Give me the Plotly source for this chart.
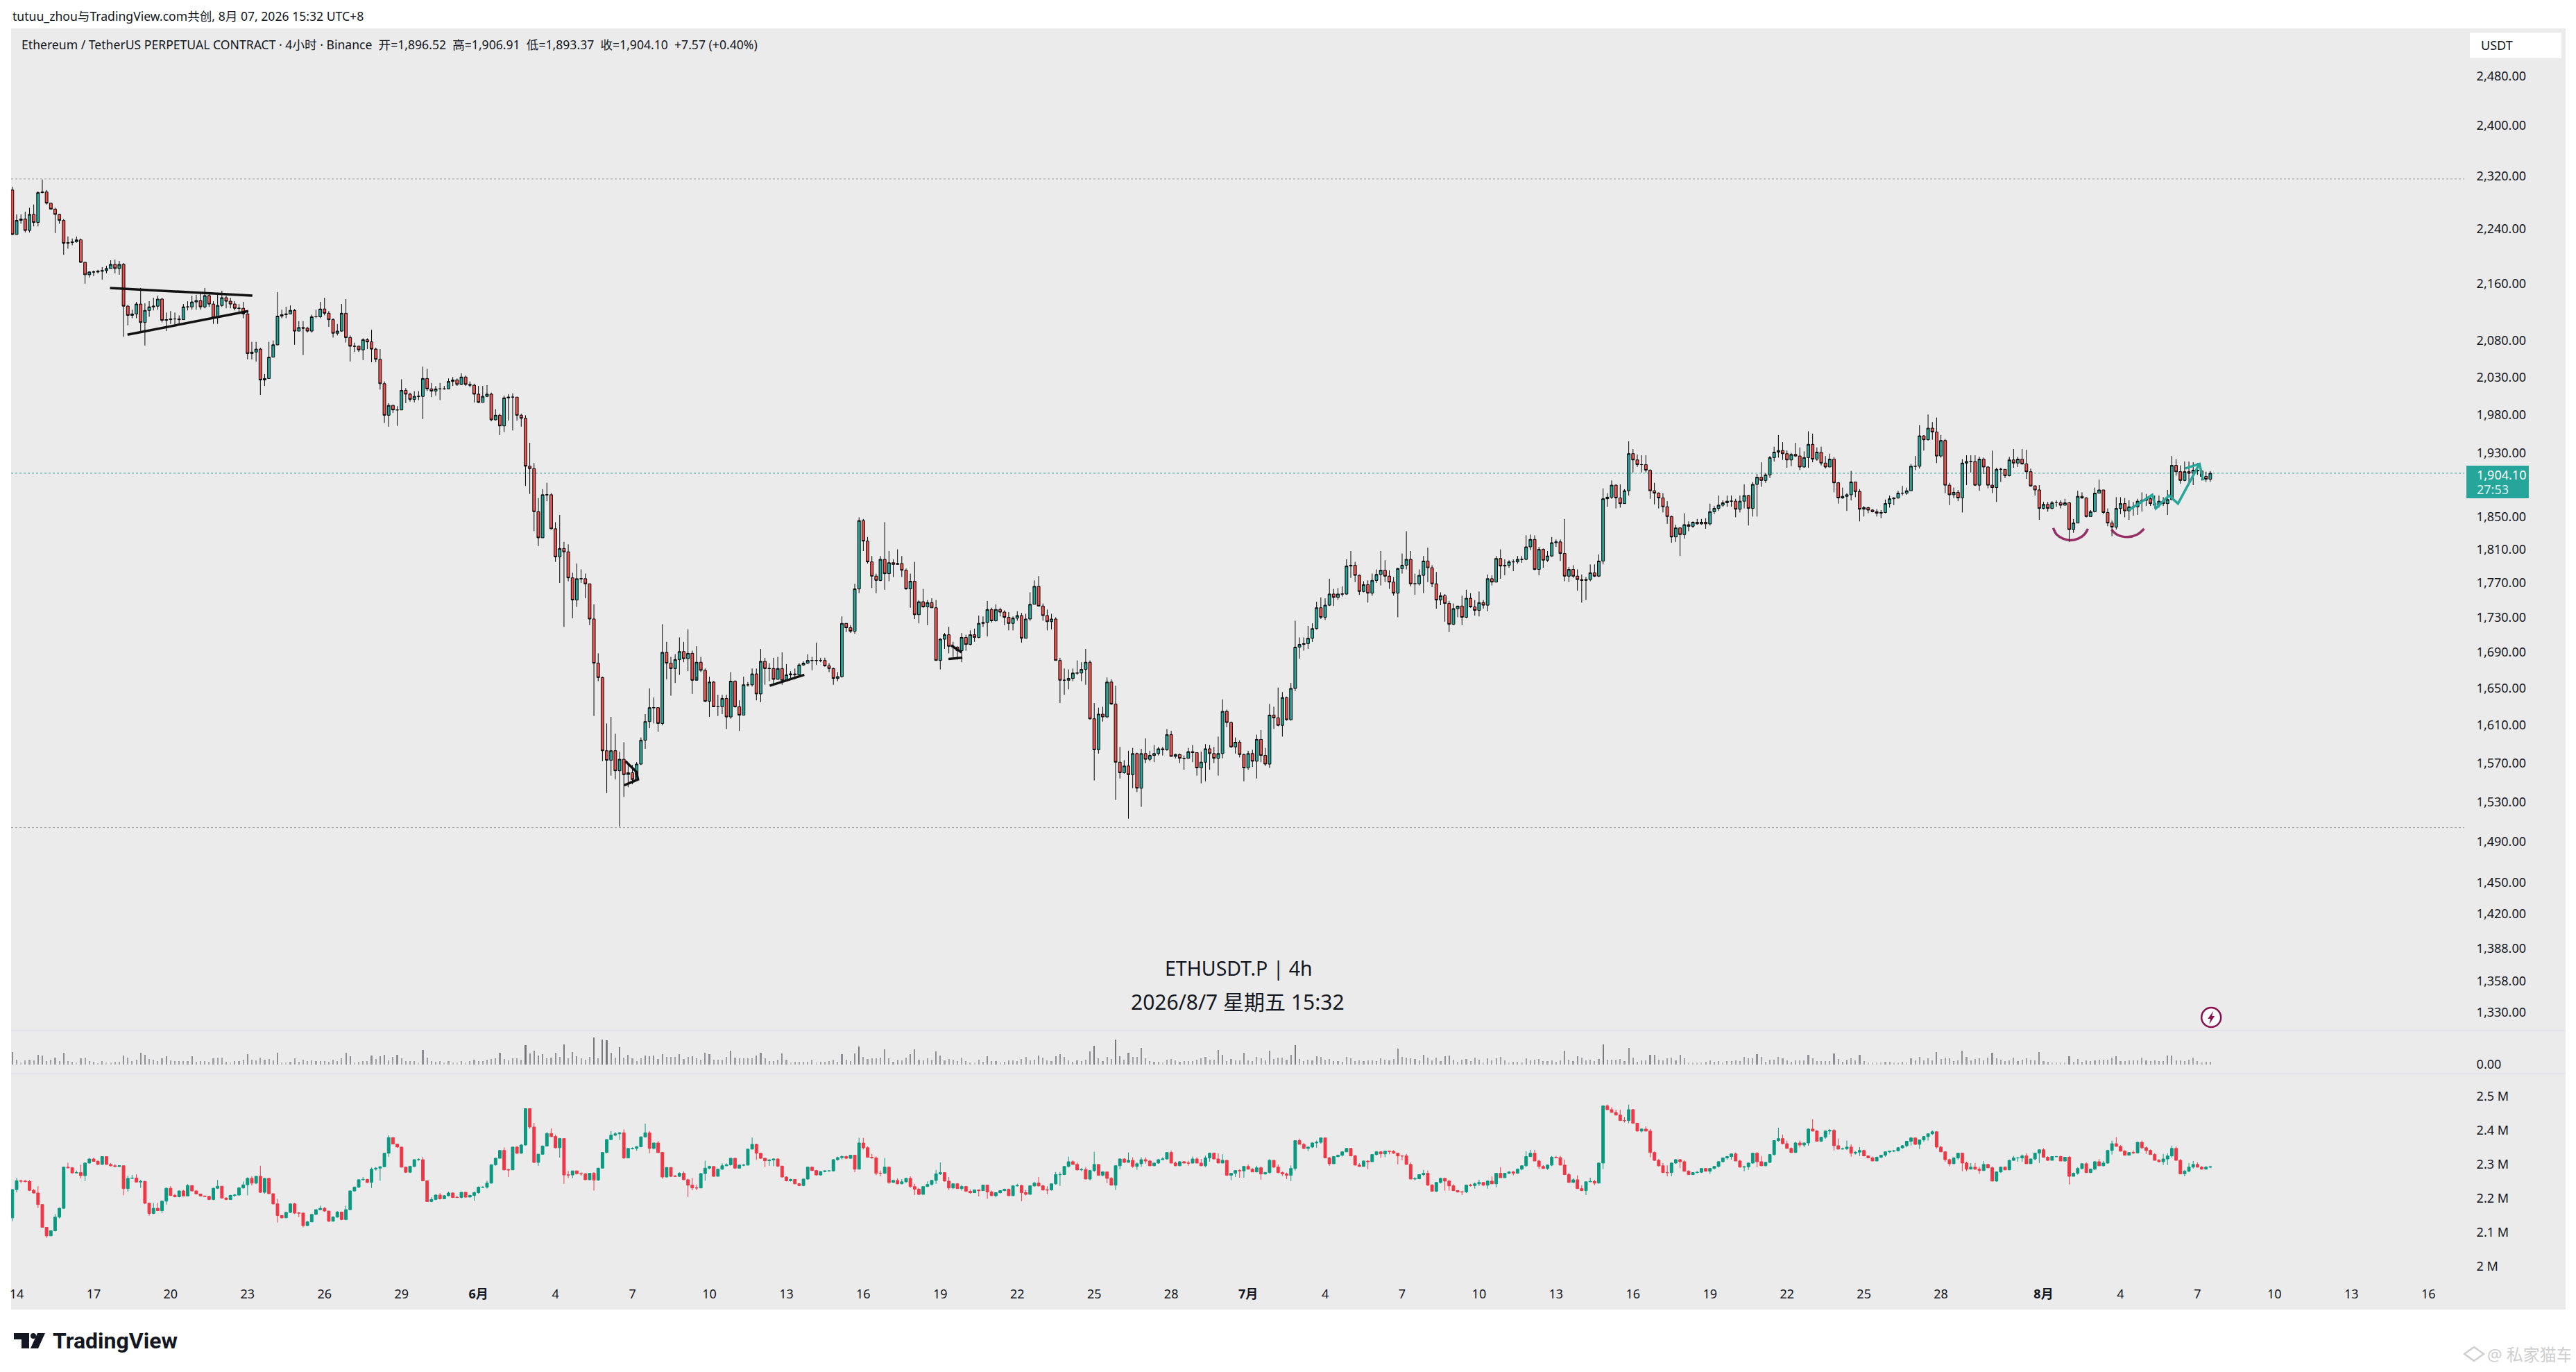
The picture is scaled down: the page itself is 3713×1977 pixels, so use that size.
import math

import pandas as pd
import plotly.graph_objects as go

# the browser page keeps its 8px body margin, so the figure is drawn 8px smaller
PAGE_WIDTH = 3713
PAGE_HEIGHT = 1977
BODY_MARGIN = 8
WIDTH = PAGE_WIDTH - BODY_MARGIN
HEIGHT = PAGE_HEIGHT - BODY_MARGIN

# ---- price pane, USDT (open of a bar is the close of the bar before it)
first_open = 2299
price_close = [
    2232, 2253, 2255, 2238, 2262, 2250, 2295, 2296, 2279, 2270,
    2262, 2253, 2219, 2220, 2221, 2224, 2191, 2173, 2177, 2177,
    2178, 2179, 2182, 2188, 2182, 2188, 2128, 2115, 2117, 2131,
    2105, 2122, 2127, 2128, 2138, 2108, 2109, 2110, 2110, 2109,
    2127, 2127, 2134, 2136, 2127, 2143, 2131, 2112, 2129, 2140,
    2135, 2131, 2125, 2125, 2117, 2062, 2064, 2068, 2026, 2028,
    2057, 2074, 2114, 2116, 2117, 2122, 2093, 2098, 2097, 2093,
    2113, 2113, 2124, 2118, 2109, 2090, 2093, 2118, 2084, 2072,
    2072, 2067, 2081, 2078, 2068, 2054, 2021, 1979, 1992, 1986,
    1986, 2012, 2007, 2000, 2004, 2004, 2028, 2014, 2011, 2014,
    2014, 2014, 2024, 2026, 2020, 2030, 2020, 2019, 2007, 1996,
    2004, 2007, 1973, 1979, 1965, 2002, 2003, 2003, 1979, 1975,
    1913, 1910, 1856, 1824, 1877, 1877, 1835, 1801, 1811, 1807,
    1776, 1750, 1775, 1775, 1769, 1728, 1678, 1662, 1583, 1573,
    1583, 1562, 1574, 1558, 1560, 1553, 1569, 1594, 1614, 1629,
    1629, 1612, 1690, 1678, 1672, 1682, 1691, 1683, 1689, 1659,
    1679, 1670, 1636, 1657, 1630, 1630, 1639, 1619, 1658, 1630,
    1621, 1654, 1654, 1666, 1644, 1680, 1672, 1672, 1660, 1672,
    1659, 1665, 1666, 1665, 1676, 1678, 1681, 1681, 1681, 1681,
    1675, 1672, 1661, 1663, 1723, 1718, 1714, 1763, 1845, 1820,
    1795, 1778, 1773, 1798, 1781, 1794, 1792, 1793, 1785, 1763,
    1772, 1733, 1748, 1742, 1747, 1741, 1681, 1705, 1710, 1697,
    1696, 1692, 1707, 1699, 1710, 1707, 1723, 1724, 1739, 1726,
    1739, 1736, 1730, 1723, 1729, 1732, 1706, 1728, 1745, 1766,
    1743, 1732, 1725, 1728, 1681, 1659, 1659, 1661, 1667, 1667,
    1671, 1679, 1617, 1584, 1622, 1619, 1657, 1633, 1571, 1560,
    1567, 1558, 1580, 1544, 1580, 1574, 1578, 1580, 1585, 1584,
    1600, 1577, 1579, 1575, 1575, 1582, 1581, 1565, 1571, 1585,
    1580, 1575, 1580, 1625, 1613, 1587, 1592, 1579, 1565, 1580,
    1572, 1595, 1578, 1569, 1621, 1618, 1610, 1640, 1616, 1650,
    1696, 1699, 1700, 1706, 1717, 1741, 1730, 1744, 1757, 1753,
    1757, 1757, 1790, 1791, 1779, 1760, 1768, 1758, 1773, 1780,
    1785, 1778, 1771, 1758, 1787, 1791, 1798, 1769, 1769, 1779,
    1796, 1788, 1769, 1750, 1755, 1746, 1722, 1740, 1743, 1730,
    1752, 1742, 1738, 1747, 1744, 1775, 1771, 1799, 1790, 1791,
    1795, 1795, 1798, 1798, 1813, 1822, 1786, 1810, 1797, 1802,
    1818, 1819, 1805, 1778, 1786, 1778, 1774, 1773, 1774, 1782,
    1778, 1796, 1872, 1874, 1889, 1873, 1866, 1882, 1929, 1921,
    1915, 1915, 1908, 1882, 1879, 1873, 1862, 1850, 1825, 1836,
    1828, 1840, 1838, 1843, 1841, 1843, 1841, 1856, 1860, 1864,
    1867, 1869, 1869, 1859, 1869, 1876, 1860, 1890, 1899, 1895,
    1902, 1924, 1931, 1933, 1929, 1921, 1928, 1926, 1912, 1924,
    1941, 1922, 1931, 1917, 1912, 1922, 1892, 1873, 1875, 1877,
    1893, 1881, 1859, 1861, 1858, 1856, 1854, 1855, 1866, 1872,
    1873, 1879, 1879, 1882, 1913, 1913, 1952, 1947, 1962, 1957,
    1926, 1946, 1889, 1877, 1880, 1873, 1917, 1919, 1919, 1889,
    1922, 1912, 1889, 1886, 1909, 1909, 1901, 1921, 1917, 1922,
    1916, 1906, 1888, 1883, 1860, 1865, 1860, 1867, 1867, 1864,
    1867, 1834, 1842, 1875, 1873, 1850, 1856, 1879, 1883, 1855,
    1842, 1837, 1860, 1866, 1857, 1862, 1862, 1869, 1870, 1872,
    1866, 1864, 1869, 1866, 1871, 1914, 1906, 1895, 1906, 1904,
    1908, 1907, 1900, 1896.52, 1904.10,
]
price_high = [
    2304, 2262, 2262, 2266, 2272, 2277, 2297, 2315, 2299, 2279,
    2272, 2263, 2255, 2229, 2226, 2229, 2226, 2192, 2178, 2179,
    2180, 2184, 2186, 2194, 2195, 2193, 2190, 2130, 2123, 2134,
    2154, 2132, 2135, 2140, 2143, 2140, 2119, 2121, 2119, 2115,
    2131, 2135, 2143, 2144, 2146, 2154, 2146, 2135, 2144, 2150,
    2143, 2140, 2135, 2131, 2134, 2121, 2078, 2078, 2070, 2034,
    2078, 2080, 2148, 2123, 2127, 2129, 2124, 2107, 2107, 2099,
    2116, 2123, 2134, 2140, 2121, 2111, 2103, 2131, 2138, 2087,
    2077, 2073, 2083, 2083, 2095, 2070, 2068, 2024, 1995, 1993,
    1991, 2027, 2015, 2009, 2011, 2011, 2044, 2041, 2022, 2018,
    2022, 2018, 2028, 2030, 2028, 2035, 2032, 2024, 2021, 2018,
    2018, 2019, 2009, 1987, 1981, 2005, 2007, 2008, 2003, 1981,
    1979, 1943, 1917, 1873, 1884, 1892, 1879, 1843, 1852, 1819,
    1816, 1782, 1793, 1786, 1781, 1769, 1745, 1689, 1663, 1612,
    1619, 1601, 1582, 1592, 1569, 1568, 1571, 1597, 1622, 1650,
    1640, 1629, 1722, 1702, 1685, 1688, 1707, 1702, 1716, 1692,
    1697, 1685, 1672, 1663, 1658, 1643, 1643, 1643, 1668, 1659,
    1637, 1663, 1657, 1672, 1672, 1694, 1684, 1678, 1684, 1685,
    1690, 1677, 1669, 1672, 1678, 1680, 1688, 1685, 1701, 1684,
    1684, 1678, 1673, 1668, 1731, 1723, 1721, 1769, 1849, 1847,
    1825, 1802, 1781, 1802, 1843, 1808, 1798, 1810, 1802, 1787,
    1781, 1795, 1750, 1763, 1750, 1752, 1750, 1706, 1712, 1719,
    1702, 1697, 1712, 1710, 1715, 1717, 1732, 1731, 1749, 1741,
    1745, 1741, 1738, 1736, 1731, 1737, 1735, 1734, 1759, 1773,
    1778, 1746, 1739, 1734, 1730, 1684, 1672, 1671, 1672, 1681,
    1679, 1694, 1681, 1634, 1629, 1630, 1662, 1660, 1653, 1587,
    1573, 1583, 1586, 1581, 1585, 1596, 1583, 1589, 1587, 1587,
    1606, 1604, 1580, 1580, 1578, 1586, 1589, 1581, 1582, 1590,
    1589, 1587, 1598, 1638, 1627, 1614, 1597, 1594, 1580, 1583,
    1584, 1600, 1605, 1586, 1633, 1630, 1651, 1646, 1641, 1656,
    1726, 1707, 1707, 1720, 1723, 1748, 1753, 1752, 1775, 1763,
    1764, 1766, 1798, 1808, 1795, 1780, 1772, 1773, 1781, 1786,
    1808, 1797, 1785, 1777, 1788, 1805, 1832, 1808, 1781, 1786,
    1802, 1812, 1791, 1783, 1759, 1757, 1749, 1746, 1743, 1755,
    1762, 1758, 1750, 1760, 1750, 1780, 1779, 1802, 1810, 1798,
    1797, 1798, 1802, 1802, 1827, 1828, 1827, 1813, 1811, 1808,
    1825, 1822, 1822, 1847, 1789, 1791, 1786, 1780, 1777, 1792,
    1792, 1804, 1885, 1879, 1895, 1890, 1890, 1884, 1945, 1935,
    1928, 1927, 1927, 1909, 1892, 1880, 1879, 1869, 1851, 1840,
    1837, 1854, 1844, 1844, 1847, 1847, 1848, 1866, 1863, 1876,
    1870, 1876, 1876, 1872, 1876, 1890, 1877, 1893, 1903, 1918,
    1904, 1926, 1938, 1953, 1944, 1933, 1930, 1943, 1937, 1932,
    1958, 1955, 1937, 1938, 1926, 1929, 1925, 1893, 1886, 1879,
    1907, 1893, 1884, 1863, 1862, 1859, 1859, 1858, 1871, 1876,
    1874, 1882, 1888, 1886, 1916, 1926, 1966, 1953, 1980, 1970,
    1976, 1953, 1948, 1892, 1886, 1883, 1922, 1927, 1927, 1927,
    1925, 1924, 1913, 1933, 1911, 1911, 1909, 1925, 1935, 1925,
    1935, 1934, 1910, 1889, 1889, 1868, 1868, 1869, 1870, 1870,
    1872, 1868, 1847, 1882, 1880, 1874, 1858, 1886, 1896, 1883,
    1860, 1845, 1874, 1874, 1873, 1870, 1868, 1872, 1880, 1878,
    1876, 1876, 1876, 1874, 1883, 1926, 1922, 1914, 1919, 1919,
    1918, 1917, 1908, 1906, 1906.91,
]
price_low = [
    2231, 2232, 2248, 2235, 2235, 2244, 2244, 2294, 2277, 2270,
    2234, 2248, 2202, 2211, 2216, 2220, 2190, 2160, 2169, 2171,
    2175, 2166, 2175, 2182, 2175, 2173, 2085, 2101, 2111, 2111,
    2092, 2073, 2113, 2122, 2123, 2105, 2093, 2103, 2101, 2103,
    2109, 2122, 2123, 2123, 2123, 2125, 2127, 2103, 2103, 2127,
    2125, 2125, 2122, 2119, 2111, 2054, 2054, 2051, 2006, 2018,
    2028, 2057, 2073, 2111, 2111, 2117, 2074, 2093, 2060, 2091,
    2091, 2111, 2111, 2115, 2099, 2084, 2087, 2092, 2077, 2051,
    2064, 2064, 2053, 2068, 2050, 2050, 2013, 1969, 1964, 1982,
    1965, 1986, 1995, 1997, 1996, 1999, 1974, 2011, 2003, 2005,
    1999, 2013, 2014, 2018, 2018, 2019, 2018, 2016, 1996, 1995,
    1996, 2003, 1971, 1972, 1953, 1957, 1972, 1959, 1972, 1964,
    1888, 1878, 1832, 1814, 1824, 1869, 1834, 1795, 1770, 1719,
    1772, 1729, 1742, 1770, 1752, 1721, 1620, 1658, 1572, 1539,
    1557, 1553, 1505, 1535, 1545, 1548, 1551, 1568, 1585, 1607,
    1612, 1603, 1610, 1660, 1642, 1656, 1665, 1679, 1669, 1644,
    1663, 1668, 1635, 1619, 1630, 1620, 1622, 1606, 1617, 1629,
    1604, 1621, 1652, 1652, 1637, 1635, 1654, 1658, 1654, 1660,
    1654, 1658, 1660, 1660, 1663, 1675, 1677, 1670, 1676, 1679,
    1674, 1668, 1654, 1658, 1662, 1713, 1712, 1711, 1758, 1808,
    1793, 1764, 1758, 1772, 1762, 1772, 1777, 1792, 1777, 1762,
    1741, 1728, 1723, 1741, 1721, 1741, 1681, 1671, 1694, 1689,
    1685, 1682, 1679, 1692, 1698, 1702, 1706, 1719, 1708, 1724,
    1725, 1731, 1721, 1715, 1715, 1726, 1701, 1706, 1726, 1745,
    1743, 1726, 1715, 1716, 1681, 1634, 1643, 1649, 1658, 1665,
    1658, 1654, 1616, 1552, 1580, 1614, 1618, 1632, 1532, 1554,
    1559, 1513, 1544, 1540, 1525, 1570, 1572, 1571, 1578, 1578,
    1583, 1577, 1575, 1570, 1563, 1575, 1571, 1557, 1549, 1551,
    1563, 1570, 1557, 1575, 1608, 1586, 1580, 1576, 1551, 1563,
    1566, 1554, 1571, 1567, 1565, 1606, 1609, 1598, 1615, 1615,
    1647, 1683, 1692, 1694, 1702, 1716, 1728, 1727, 1743, 1743,
    1750, 1754, 1756, 1776, 1771, 1756, 1759, 1747, 1755, 1770,
    1767, 1771, 1763, 1755, 1730, 1781, 1786, 1766, 1756, 1767,
    1758, 1771, 1765, 1740, 1744, 1725, 1713, 1721, 1730, 1721,
    1729, 1741, 1732, 1731, 1740, 1737, 1767, 1771, 1775, 1779,
    1788, 1784, 1793, 1794, 1797, 1809, 1785, 1779, 1788, 1795,
    1801, 1813, 1796, 1772, 1771, 1776, 1761, 1747, 1750, 1772,
    1777, 1777, 1792, 1862, 1872, 1860, 1861, 1866, 1876, 1905,
    1912, 1905, 1905, 1872, 1865, 1860, 1855, 1841, 1818, 1819,
    1802, 1823, 1832, 1836, 1840, 1840, 1835, 1839, 1853, 1857,
    1862, 1862, 1862, 1849, 1855, 1860, 1839, 1850, 1850, 1887,
    1892, 1898, 1919, 1924, 1921, 1911, 1913, 1925, 1908, 1911,
    1911, 1918, 1920, 1914, 1910, 1912, 1880, 1866, 1872, 1857,
    1870, 1874, 1844, 1850, 1854, 1855, 1850, 1848, 1854, 1861,
    1864, 1872, 1876, 1877, 1882, 1908, 1910, 1933, 1946, 1947,
    1917, 1924, 1879, 1864, 1873, 1869, 1855, 1889, 1905, 1888,
    1882, 1903, 1885, 1879, 1868, 1893, 1898, 1900, 1911, 1912,
    1915, 1897, 1887, 1876, 1846, 1859, 1856, 1859, 1862, 1860,
    1864, 1819, 1830, 1842, 1872, 1849, 1850, 1855, 1879, 1853,
    1838, 1826, 1834, 1853, 1849, 1846, 1851, 1852, 1856, 1863,
    1863, 1860, 1861, 1863, 1852, 1870, 1901, 1891, 1894, 1893,
    1889, 1902, 1895, 1893, 1893.37,
]

# ---- volume pane, relative bar heights
volume = [
    54, 20, 10, 18, 20, 17, 42, 38, 14, 22, 30, 14, 50, 14, 12, 8, 26, 30, 14, 12,
    5, 14, 10, 10, 12, 12, 38, 30, 16, 20, 50, 42, 24, 20, 14, 26, 36, 18, 14, 16,
    14, 16, 36, 12, 16, 16, 12, 28, 30, 30, 12, 10, 14, 14, 20, 44, 20, 18, 30, 20,
    24, 18, 50, 10, 10, 12, 28, 12, 22, 14, 18, 14, 16, 14, 12, 20, 16, 26, 50, 36,
    10, 12, 14, 14, 40, 24, 36, 42, 18, 34, 42, 28, 14, 16, 16, 10, 62, 30, 14, 12,
    14, 8, 14, 10, 8, 14, 8, 14, 20, 16, 14, 22, 24, 26, 52, 24, 18, 28, 26, 22,
    84, 48, 60, 38, 44, 26, 30, 50, 34, 86, 28, 54, 36, 26, 22, 34, 117, 26, 108, 104,
    52, 30, 76, 30, 42, 26, 16, 28, 38, 36, 38, 24, 46, 32, 34, 32, 44, 24, 32, 36,
    28, 22, 52, 44, 22, 20, 20, 32, 60, 30, 26, 26, 26, 26, 38, 50, 26, 16, 14, 22,
    48, 20, 10, 12, 12, 12, 12, 22, 10, 12, 12, 14, 21, 12, 45, 21, 15, 48, 78, 33,
    24, 27, 27, 30, 66, 27, 12, 21, 18, 30, 45, 66, 21, 18, 27, 21, 57, 39, 18, 24,
    21, 15, 30, 15, 10, 10, 21, 12, 36, 15, 15, 9, 12, 18, 18, 15, 24, 33, 18, 21,
    39, 30, 18, 15, 36, 45, 33, 18, 12, 18, 15, 21, 57, 81, 27, 15, 33, 24, 108, 36,
    21, 51, 33, 33, 72, 27, 15, 12, 12, 9, 21, 24, 18, 12, 15, 15, 15, 21, 27, 33,
    21, 21, 63, 42, 15, 24, 18, 18, 51, 18, 15, 33, 27, 18, 60, 24, 30, 30, 21, 42,
    84, 24, 15, 21, 18, 36, 33, 21, 24, 15, 15, 12, 33, 27, 15, 18, 15, 18, 18, 15,
    27, 21, 18, 24, 69, 33, 30, 27, 24, 18, 42, 30, 18, 30, 15, 36, 39, 21, 12, 21,
    24, 15, 30, 21, 9, 27, 18, 27, 33, 18, 9, 12, 12, 9, 27, 18, 21, 24, 15, 15,
    18, 12, 18, 60, 21, 15, 36, 30, 18, 21, 15, 24, 87, 21, 21, 21, 24, 15, 72, 30,
    12, 18, 18, 42, 42, 21, 18, 27, 30, 18, 42, 27, 9, 9, 9, 9, 12, 18, 12, 15,
    9, 15, 15, 18, 15, 33, 27, 27, 45, 33, 12, 21, 21, 33, 27, 18, 12, 18, 18, 18,
    42, 27, 15, 15, 15, 15, 48, 24, 12, 21, 27, 18, 42, 15, 9, 9, 9, 9, 12, 12,
    9, 9, 12, 9, 27, 18, 33, 18, 27, 18, 54, 24, 30, 27, 15, 18, 60, 33, 18, 24,
    27, 18, 30, 51, 27, 21, 15, 18, 30, 15, 21, 27, 21, 18, 54, 15, 12, 9, 9, 9,
    9, 36, 12, 24, 12, 18, 15, 18, 21, 21, 21, 30, 36, 15, 15, 18, 18, 18, 30, 18,
    15, 18, 15, 15, 39, 39, 18, 18, 15, 21, 30, 15, 9, 12, 12,
]

# ---- lower pane, millions
lower_first_open = 2.143
lower_close = [
    2.226, 2.252, 2.251, 2.250, 2.224, 2.216, 2.182, 2.115, 2.090, 2.105,
    2.145, 2.171, 2.292, 2.290, 2.275, 2.276, 2.267, 2.304, 2.316, 2.309,
    2.300, 2.323, 2.300, 2.296, 2.294, 2.296, 2.229, 2.259, 2.260, 2.248,
    2.250, 2.186, 2.156, 2.171, 2.164, 2.192, 2.230, 2.209, 2.205, 2.222,
    2.207, 2.238, 2.222, 2.213, 2.207, 2.206, 2.197, 2.230, 2.236, 2.201,
    2.197, 2.209, 2.210, 2.231, 2.240, 2.259, 2.245, 2.265, 2.218, 2.259,
    2.214, 2.184, 2.150, 2.143, 2.159, 2.184, 2.157, 2.157, 2.120, 2.131,
    2.153, 2.167, 2.171, 2.163, 2.133, 2.145, 2.160, 2.138, 2.167, 2.222,
    2.233, 2.255, 2.256, 2.247, 2.286, 2.289, 2.293, 2.333, 2.379, 2.360,
    2.351, 2.292, 2.277, 2.294, 2.314, 2.314, 2.252, 2.191, 2.197, 2.210,
    2.199, 2.208, 2.216, 2.203, 2.203, 2.218, 2.204, 2.209, 2.217, 2.233,
    2.233, 2.245, 2.299, 2.318, 2.341, 2.284, 2.284, 2.351, 2.333, 2.357,
    2.464, 2.410, 2.306, 2.330, 2.354, 2.391, 2.382, 2.349, 2.376, 2.269,
    2.269, 2.281, 2.273, 2.272, 2.255, 2.274, 2.254, 2.289, 2.335, 2.373,
    2.386, 2.390, 2.393, 2.319, 2.347, 2.347, 2.352, 2.381, 2.393, 2.347,
    2.363, 2.335, 2.263, 2.291, 2.265, 2.265, 2.274, 2.255, 2.239, 2.231,
    2.231, 2.273, 2.289, 2.294, 2.265, 2.286, 2.296, 2.299, 2.318, 2.289,
    2.298, 2.298, 2.345, 2.359, 2.333, 2.318, 2.311, 2.313, 2.316, 2.295,
    2.263, 2.252, 2.256, 2.243, 2.238, 2.257, 2.292, 2.282, 2.269, 2.279,
    2.281, 2.281, 2.314, 2.320, 2.323, 2.318, 2.327, 2.286, 2.363, 2.349,
    2.321, 2.319, 2.274, 2.274, 2.292, 2.247, 2.253, 2.243, 2.249, 2.259,
    2.235, 2.227, 2.212, 2.235, 2.241, 2.253, 2.272, 2.276, 2.251, 2.231,
    2.243, 2.229, 2.235, 2.221, 2.217, 2.225, 2.223, 2.239, 2.219, 2.208,
    2.217, 2.223, 2.227, 2.208, 2.237, 2.238, 2.217, 2.212, 2.237, 2.245,
    2.237, 2.225, 2.225, 2.243, 2.270, 2.270, 2.294, 2.308, 2.300, 2.284,
    2.285, 2.257, 2.282, 2.300, 2.268, 2.278, 2.259, 2.239, 2.296, 2.316,
    2.306, 2.312, 2.294, 2.302, 2.314, 2.310, 2.296, 2.304, 2.314, 2.316,
    2.335, 2.304, 2.296, 2.308, 2.304, 2.304, 2.316, 2.304, 2.296, 2.319,
    2.333, 2.316, 2.304, 2.312, 2.268, 2.274, 2.282, 2.281, 2.294, 2.286,
    2.278, 2.290, 2.272, 2.276, 2.312, 2.292, 2.276, 2.272, 2.268, 2.288,
    2.370, 2.359, 2.347, 2.351, 2.363, 2.365, 2.378, 2.319, 2.302, 2.323,
    2.327, 2.337, 2.347, 2.325, 2.298, 2.294, 2.310, 2.308, 2.329, 2.337,
    2.331, 2.339, 2.338, 2.333, 2.325, 2.325, 2.300, 2.257, 2.258, 2.270,
    2.274, 2.239, 2.221, 2.247, 2.259, 2.251, 2.237, 2.223, 2.219, 2.219,
    2.239, 2.238, 2.243, 2.247, 2.239, 2.251, 2.243, 2.274, 2.261, 2.274,
    2.278, 2.274, 2.286, 2.296, 2.323, 2.333, 2.310, 2.294, 2.288, 2.298,
    2.321, 2.320, 2.298, 2.270, 2.247, 2.255, 2.229, 2.223, 2.249, 2.250,
    2.245, 2.304, 2.472, 2.461, 2.453, 2.445, 2.429, 2.429, 2.461, 2.421,
    2.398, 2.404, 2.398, 2.335, 2.312, 2.296, 2.276, 2.276, 2.304, 2.314,
    2.308, 2.280, 2.270, 2.276, 2.277, 2.288, 2.280, 2.288, 2.294, 2.308,
    2.319, 2.323, 2.331, 2.310, 2.292, 2.293, 2.304, 2.333, 2.308, 2.296,
    2.306, 2.329, 2.370, 2.376, 2.361, 2.347, 2.335, 2.363, 2.357, 2.363,
    2.404, 2.398, 2.368, 2.380, 2.398, 2.400, 2.355, 2.345, 2.346, 2.351,
    2.333, 2.336, 2.341, 2.325, 2.319, 2.310, 2.321, 2.327, 2.337, 2.339,
    2.340, 2.349, 2.355, 2.368, 2.378, 2.359, 2.372, 2.382, 2.390, 2.396,
    2.351, 2.337, 2.314, 2.302, 2.319, 2.333, 2.304, 2.286, 2.292, 2.286,
    2.282, 2.300, 2.290, 2.251, 2.278, 2.292, 2.284, 2.312, 2.319, 2.319,
    2.325, 2.302, 2.316, 2.333, 2.343, 2.321, 2.312, 2.323, 2.323, 2.310,
    2.321, 2.265, 2.274, 2.288, 2.302, 2.276, 2.286, 2.308, 2.296, 2.304,
    2.341, 2.361, 2.353, 2.339, 2.327, 2.335, 2.334, 2.365, 2.349, 2.341,
    2.329, 2.312, 2.308, 2.316, 2.325, 2.347, 2.312, 2.272, 2.280, 2.292,
    2.300, 2.292, 2.286, 2.292, 2.293,
]
lower_high = [
    2.228, 2.260, 2.255, 2.254, 2.254, 2.228, 2.236, 2.182, 2.116, 2.107,
    2.154, 2.173, 2.293, 2.305, 2.292, 2.282, 2.299, 2.306, 2.319, 2.320,
    2.313, 2.324, 2.323, 2.304, 2.301, 2.298, 2.297, 2.267, 2.269, 2.271,
    2.255, 2.252, 2.188, 2.187, 2.187, 2.194, 2.232, 2.236, 2.214, 2.224,
    2.225, 2.242, 2.238, 2.225, 2.214, 2.209, 2.208, 2.231, 2.254, 2.236,
    2.204, 2.211, 2.213, 2.233, 2.250, 2.262, 2.265, 2.266, 2.296, 2.260,
    2.260, 2.213, 2.199, 2.150, 2.160, 2.185, 2.187, 2.160, 2.158, 2.134,
    2.154, 2.168, 2.179, 2.175, 2.163, 2.148, 2.163, 2.160, 2.179, 2.224,
    2.235, 2.256, 2.263, 2.258, 2.291, 2.292, 2.295, 2.334, 2.386, 2.380,
    2.361, 2.351, 2.292, 2.296, 2.315, 2.318, 2.322, 2.252, 2.204, 2.212,
    2.216, 2.210, 2.220, 2.218, 2.208, 2.219, 2.219, 2.211, 2.220, 2.235,
    2.236, 2.252, 2.300, 2.320, 2.342, 2.350, 2.288, 2.352, 2.354, 2.360,
    2.465, 2.463, 2.422, 2.331, 2.356, 2.395, 2.406, 2.388, 2.378, 2.376,
    2.281, 2.282, 2.282, 2.277, 2.275, 2.275, 2.277, 2.290, 2.336, 2.374,
    2.398, 2.395, 2.395, 2.403, 2.348, 2.350, 2.354, 2.382, 2.420, 2.398,
    2.364, 2.369, 2.337, 2.292, 2.291, 2.269, 2.277, 2.279, 2.258, 2.260,
    2.241, 2.275, 2.311, 2.296, 2.294, 2.288, 2.303, 2.303, 2.319, 2.320,
    2.299, 2.301, 2.346, 2.379, 2.361, 2.333, 2.320, 2.316, 2.318, 2.318,
    2.296, 2.265, 2.258, 2.256, 2.245, 2.258, 2.293, 2.292, 2.284, 2.281,
    2.282, 2.282, 2.316, 2.323, 2.327, 2.326, 2.328, 2.328, 2.378, 2.378,
    2.353, 2.331, 2.323, 2.282, 2.319, 2.293, 2.254, 2.259, 2.257, 2.261,
    2.265, 2.243, 2.231, 2.236, 2.250, 2.255, 2.284, 2.306, 2.277, 2.263,
    2.244, 2.245, 2.240, 2.237, 2.226, 2.225, 2.225, 2.240, 2.240, 2.223,
    2.218, 2.224, 2.229, 2.229, 2.238, 2.243, 2.240, 2.225, 2.238, 2.249,
    2.263, 2.240, 2.236, 2.244, 2.278, 2.278, 2.295, 2.323, 2.312, 2.306,
    2.289, 2.293, 2.284, 2.337, 2.300, 2.280, 2.279, 2.263, 2.297, 2.318,
    2.318, 2.335, 2.321, 2.306, 2.321, 2.321, 2.313, 2.306, 2.316, 2.321,
    2.336, 2.341, 2.308, 2.310, 2.310, 2.311, 2.323, 2.321, 2.316, 2.326,
    2.335, 2.335, 2.333, 2.330, 2.313, 2.274, 2.283, 2.286, 2.295, 2.300,
    2.289, 2.296, 2.294, 2.278, 2.316, 2.313, 2.300, 2.279, 2.276, 2.297,
    2.371, 2.376, 2.363, 2.353, 2.365, 2.370, 2.379, 2.379, 2.322, 2.324,
    2.329, 2.339, 2.348, 2.348, 2.328, 2.304, 2.312, 2.312, 2.330, 2.339,
    2.339, 2.340, 2.340, 2.342, 2.331, 2.327, 2.331, 2.306, 2.263, 2.271,
    2.284, 2.282, 2.242, 2.248, 2.261, 2.261, 2.255, 2.242, 2.225, 2.223,
    2.240, 2.243, 2.247, 2.255, 2.249, 2.253, 2.265, 2.275, 2.292, 2.275,
    2.280, 2.280, 2.288, 2.297, 2.339, 2.343, 2.343, 2.314, 2.298, 2.300,
    2.325, 2.325, 2.325, 2.314, 2.276, 2.259, 2.268, 2.239, 2.250, 2.261,
    2.255, 2.306, 2.474, 2.476, 2.468, 2.461, 2.461, 2.439, 2.476, 2.463,
    2.423, 2.406, 2.412, 2.404, 2.338, 2.316, 2.304, 2.297, 2.306, 2.316,
    2.316, 2.312, 2.283, 2.277, 2.280, 2.289, 2.289, 2.289, 2.295, 2.310,
    2.320, 2.325, 2.332, 2.335, 2.314, 2.296, 2.306, 2.334, 2.336, 2.325,
    2.308, 2.330, 2.371, 2.408, 2.388, 2.370, 2.350, 2.367, 2.370, 2.365,
    2.406, 2.433, 2.401, 2.381, 2.400, 2.404, 2.404, 2.376, 2.349, 2.370,
    2.359, 2.338, 2.351, 2.343, 2.327, 2.323, 2.323, 2.328, 2.338, 2.340,
    2.342, 2.350, 2.357, 2.369, 2.379, 2.379, 2.373, 2.383, 2.391, 2.400,
    2.397, 2.355, 2.338, 2.317, 2.321, 2.334, 2.334, 2.308, 2.304, 2.304,
    2.293, 2.310, 2.302, 2.294, 2.279, 2.293, 2.294, 2.314, 2.325, 2.322,
    2.329, 2.333, 2.318, 2.334, 2.344, 2.347, 2.324, 2.324, 2.325, 2.326,
    2.322, 2.325, 2.276, 2.292, 2.304, 2.306, 2.288, 2.310, 2.316, 2.310,
    2.343, 2.370, 2.380, 2.357, 2.342, 2.336, 2.341, 2.367, 2.370, 2.353,
    2.344, 2.333, 2.316, 2.331, 2.333, 2.355, 2.353, 2.316, 2.284, 2.304,
    2.310, 2.306, 2.295, 2.295, 2.296,
]
lower_low = [
    2.133, 2.218, 2.245, 2.247, 2.222, 2.214, 2.172, 2.114, 2.084, 2.090,
    2.103, 2.141, 2.169, 2.289, 2.274, 2.274, 2.259, 2.251, 2.303, 2.308,
    2.299, 2.299, 2.299, 2.294, 2.292, 2.292, 2.209, 2.220, 2.258, 2.247,
    2.231, 2.183, 2.149, 2.154, 2.163, 2.157, 2.182, 2.207, 2.203, 2.203,
    2.206, 2.206, 2.221, 2.212, 2.206, 2.205, 2.195, 2.195, 2.228, 2.200,
    2.195, 2.195, 2.204, 2.208, 2.229, 2.209, 2.238, 2.242, 2.216, 2.214,
    2.212, 2.182, 2.129, 2.141, 2.143, 2.157, 2.154, 2.145, 2.115, 2.119,
    2.131, 2.152, 2.165, 2.161, 2.131, 2.133, 2.144, 2.136, 2.136, 2.165,
    2.220, 2.231, 2.252, 2.245, 2.231, 2.282, 2.252, 2.292, 2.322, 2.359,
    2.349, 2.291, 2.275, 2.275, 2.292, 2.311, 2.250, 2.189, 2.189, 2.195,
    2.197, 2.198, 2.206, 2.201, 2.201, 2.200, 2.202, 2.206, 2.193, 2.214,
    2.231, 2.229, 2.244, 2.296, 2.318, 2.282, 2.263, 2.284, 2.330, 2.331,
    2.356, 2.405, 2.304, 2.296, 2.329, 2.353, 2.380, 2.347, 2.320, 2.243,
    2.260, 2.260, 2.270, 2.267, 2.254, 2.254, 2.223, 2.252, 2.288, 2.333,
    2.371, 2.383, 2.372, 2.316, 2.323, 2.344, 2.340, 2.350, 2.379, 2.333,
    2.344, 2.333, 2.258, 2.262, 2.263, 2.263, 2.263, 2.254, 2.204, 2.224,
    2.224, 2.230, 2.252, 2.286, 2.264, 2.265, 2.284, 2.295, 2.296, 2.288,
    2.288, 2.295, 2.297, 2.344, 2.313, 2.316, 2.292, 2.296, 2.295, 2.292,
    2.262, 2.250, 2.250, 2.242, 2.236, 2.236, 2.255, 2.281, 2.267, 2.267,
    2.277, 2.279, 2.279, 2.311, 2.315, 2.316, 2.316, 2.277, 2.286, 2.344,
    2.320, 2.317, 2.268, 2.265, 2.272, 2.243, 2.246, 2.242, 2.242, 2.246,
    2.231, 2.210, 2.210, 2.213, 2.234, 2.238, 2.243, 2.269, 2.250, 2.225,
    2.227, 2.228, 2.223, 2.220, 2.214, 2.217, 2.206, 2.223, 2.199, 2.208,
    2.203, 2.214, 2.221, 2.208, 2.208, 2.235, 2.192, 2.209, 2.212, 2.234,
    2.235, 2.223, 2.212, 2.223, 2.240, 2.237, 2.269, 2.291, 2.299, 2.282,
    2.280, 2.257, 2.253, 2.278, 2.267, 2.265, 2.245, 2.238, 2.225, 2.286,
    2.305, 2.306, 2.290, 2.284, 2.293, 2.302, 2.295, 2.295, 2.302, 2.313,
    2.314, 2.303, 2.295, 2.295, 2.303, 2.296, 2.302, 2.303, 2.295, 2.292,
    2.308, 2.315, 2.304, 2.303, 2.267, 2.253, 2.263, 2.261, 2.261, 2.285,
    2.277, 2.277, 2.255, 2.270, 2.273, 2.290, 2.274, 2.266, 2.257, 2.251,
    2.282, 2.359, 2.345, 2.339, 2.348, 2.349, 2.361, 2.318, 2.296, 2.302,
    2.321, 2.323, 2.336, 2.324, 2.297, 2.293, 2.295, 2.286, 2.308, 2.326,
    2.319, 2.321, 2.330, 2.331, 2.300, 2.312, 2.299, 2.257, 2.253, 2.256,
    2.266, 2.237, 2.220, 2.219, 2.244, 2.223, 2.223, 2.222, 2.217, 2.210,
    2.216, 2.235, 2.229, 2.237, 2.237, 2.229, 2.242, 2.233, 2.261, 2.261,
    2.271, 2.268, 2.273, 2.283, 2.293, 2.322, 2.310, 2.286, 2.287, 2.284,
    2.295, 2.318, 2.297, 2.269, 2.246, 2.245, 2.228, 2.222, 2.210, 2.248,
    2.239, 2.244, 2.286, 2.461, 2.452, 2.444, 2.428, 2.423, 2.421, 2.420,
    2.397, 2.394, 2.397, 2.321, 2.310, 2.294, 2.275, 2.265, 2.265, 2.302,
    2.289, 2.279, 2.269, 2.269, 2.274, 2.275, 2.279, 2.272, 2.285, 2.291,
    2.306, 2.314, 2.314, 2.310, 2.291, 2.280, 2.284, 2.302, 2.292, 2.295,
    2.295, 2.304, 2.326, 2.367, 2.359, 2.346, 2.334, 2.334, 2.350, 2.351,
    2.355, 2.397, 2.367, 2.367, 2.375, 2.388, 2.341, 2.344, 2.344, 2.342,
    2.323, 2.329, 2.325, 2.324, 2.318, 2.310, 2.310, 2.318, 2.323, 2.333,
    2.336, 2.338, 2.345, 2.350, 2.355, 2.357, 2.345, 2.367, 2.370, 2.387,
    2.347, 2.336, 2.308, 2.294, 2.302, 2.314, 2.280, 2.280, 2.287, 2.284,
    2.272, 2.281, 2.289, 2.250, 2.249, 2.275, 2.283, 2.283, 2.310, 2.308,
    2.308, 2.302, 2.302, 2.312, 2.304, 2.320, 2.310, 2.312, 2.321, 2.310,
    2.308, 2.241, 2.265, 2.270, 2.285, 2.275, 2.275, 2.283, 2.295, 2.294,
    2.302, 2.329, 2.353, 2.338, 2.326, 2.326, 2.331, 2.332, 2.345, 2.331,
    2.328, 2.312, 2.306, 2.298, 2.298, 2.320, 2.312, 2.271, 2.265, 2.277,
    2.288, 2.291, 2.285, 2.285, 2.289,
]

# ---- axis labels
price_ticks = [2480, 2400, 2320, 2240, 2160, 2080, 2030, 1980, 1930, 1850, 1810, 1770,
               1730, 1690, 1650, 1610, 1570, 1530, 1490, 1450, 1420, 1388, 1358, 1330]
lower_ticks = [2.5, 2.4, 2.3, 2.2, 2.1, 2.0]
lower_tick_text = ["2.5 M", "2.4 M", "2.3 M", "2.2 M", "2.1 M", "2 M"]
date_ticks = ["2026-05-14", "2026-05-17", "2026-05-20", "2026-05-23", "2026-05-26", "2026-05-29",
              "2026-06-01", "2026-06-04", "2026-06-07", "2026-06-10", "2026-06-13", "2026-06-16",
              "2026-06-19", "2026-06-22", "2026-06-25", "2026-06-28", "2026-07-01", "2026-07-04",
              "2026-07-07", "2026-07-10", "2026-07-13", "2026-07-16", "2026-07-19", "2026-07-22",
              "2026-07-25", "2026-07-28", "2026-08-01", "2026-08-04", "2026-08-07", "2026-08-10",
              "2026-08-13", "2026-08-16"]
date_tick_text = ["14", "17", "20", "23", "26", "29", "<b>6月</b>", "4", "7", "10", "13", "16",
                  "19", "22", "25", "28", "<b>7月</b>", "4", "7", "10", "13", "16", "19", "22",
                  "25", "28", "<b>8月</b>", "4", "7", "10", "13", "16"]

# ---- hand drawings on the chart, date/price pairs
flag_top_x = ["2026-05-17 15:19", "2026-05-23 04:30"]
flag_top_y = [2154, 2143]
flag_bottom_x = ["2026-05-18 07:41", "2026-05-23 00:43"]
flag_bottom_y = [2088, 2121]
wedge_x = ["2026-06-06 17:30", "2026-06-07 03:36", "2026-06-07 05:15", "2026-06-06 16:19"]
wedge_y = [1572, 1561, 1553, 1547]
rise_x = ["2026-06-12 08:24", "2026-06-13 16:48"]
rise_y = [1653, 1665]
pin_a_x = ["2026-06-19 10:05", "2026-06-19 19:55"]
pin_a_y = [1698, 1690]
pin_b_x = ["2026-06-19 07:40", "2026-06-19 20:40"]
pin_b_y = [1682.7, 1684]
arc_left_x = ["2026-08-01 09:07", "2026-08-01 12:14", "2026-08-01 18:14", "2026-08-02 01:12",
              "2026-08-02 08:24", "2026-08-02 14:10", "2026-08-02 17:31"]
arc_left_y = [1836, 1828, 1823, 1821, 1823, 1828, 1835]
arc_right_x = ["2026-08-03 15:36", "2026-08-03 20:38", "2026-08-04 06:43", "2026-08-04 15:36",
               "2026-08-04 22:05"]
arc_right_y = [1834, 1828, 1825, 1828, 1835]
arrow_x = ["2026-08-04 07:41", "2026-08-05 05:46", "2026-08-05 09:07", "2026-08-05 21:22",
           "2026-08-06 05:46", "2026-08-07 01:55"]
arrow_y = [1858, 1877, 1860, 1876, 1866, 1916]
arrow_head_x = ["2026-08-06 12:14", "2026-08-07 01:55", "2026-08-07 05:17"]
arrow_head_y = [1910, 1916, 1895]

assert len(price_close) == len(price_high) == len(price_low) == len(volume) == 515, (
    len(price_close), len(price_high), len(price_low), len(volume))
assert len(lower_close) == len(lower_high) == len(lower_low) == 515, (
    len(lower_close), len(lower_high), len(lower_low))

# plot box in page pixels
BOX_L, BOX_R, BOX_T, BOX_B = 14, 3552, 41, 1847
PANE_MAIN_B, PANE_VOL_B = 1485, 1547


def px(x):
    return (x - BOX_L) / (BOX_R - BOX_L)


def py(y):
    return (BOX_B - y) / (BOX_B - BOX_T)


def poly(points):
    parts = [f"{px(x):.6f},{py(y):.6f}" for x, y in points]
    return "M " + " L ".join(parts) + " Z"


def paper_rect(x0, y0, x1, y1, color, layer="below"):
    return dict(type="rect", xref="paper", yref="paper", x0=px(x0), x1=px(x1), y0=py(y0), y1=py(y1),
                fillcolor=color, line_width=0, layer=layer)


def label(text, x, y, size=18, color="#131722", anchor="left", family="Noto Sans, Noto Sans CJK SC"):
    return dict(text=text, x=px(x), y=py(y), xref="paper", yref="paper", xanchor=anchor, yanchor="middle",
                showarrow=False, font=dict(size=size, color=color, family=family))


times = pd.date_range("2026-05-13 20:00", periods=len(price_close), freq="4h")
price_open = [first_open] + price_close[:-1]
lower_open = [lower_first_open] + lower_close[:-1]
volume_colors = ["#78787c" if v >= 75 else "#8e8e93" if v >= 36 else "#a0a0a4" if v >= 12 else "#bcbcbe"
                 for v in volume]

fig = go.Figure()
fig.add_trace(go.Candlestick(
    x=times, open=price_open, high=price_high, low=price_low, close=price_close, yaxis="y",
    increasing=dict(line=dict(color="#000000", width=1), fillcolor="#26a69a"),
    decreasing=dict(line=dict(color="#000000", width=1), fillcolor="#ef5350"),
    hoverinfo="skip", showlegend=False,
))
fig.add_trace(go.Bar(x=times, y=volume, yaxis="y2", marker=dict(color=volume_colors, line_width=0),
                     width=5000000, hoverinfo="skip", showlegend=False))
fig.add_trace(go.Candlestick(
    x=times, open=lower_open, high=lower_high, low=lower_low, close=lower_close, yaxis="y3",
    increasing=dict(line=dict(color="#089981", width=1), fillcolor="#089981"),
    decreasing=dict(line=dict(color="#f23645", width=1), fillcolor="#f23645"),
    hoverinfo="skip", showlegend=False,
))

for xs, ys in [(flag_top_x, flag_top_y), (flag_bottom_x, flag_bottom_y), (wedge_x, wedge_y), (rise_x, rise_y),
               (pin_a_x, pin_a_y), (pin_b_x, pin_b_y)]:
    fig.add_trace(go.Scatter(x=xs, y=ys, mode="lines", line=dict(color="#111111", width=3.5), yaxis="y",
                             hoverinfo="skip", showlegend=False))
for xs, ys in [(arc_left_x, arc_left_y), (arc_right_x, arc_right_y)]:
    fig.add_trace(go.Scatter(x=xs, y=ys, mode="lines", line=dict(color="#880e4f", width=3.5, shape="spline"),
                             opacity=0.85, yaxis="y", hoverinfo="skip", showlegend=False))
for xs, ys in [(arrow_x, arrow_y), (arrow_head_x, arrow_head_y)]:
    fig.add_trace(go.Scatter(x=xs, y=ys, mode="lines", line=dict(color="#26a69a", width=3.5), yaxis="y",
                             hoverinfo="skip", showlegend=False))

shapes = [
    paper_rect(14, 41, 3698, 1887, "#ebebeb"),
    paper_rect(14, PANE_MAIN_B - 1, 3698, PANE_MAIN_B + 1, "#e2e2e8", "above"),
    paper_rect(14, PANE_VOL_B - 1, 3698, PANE_VOL_B + 1, "#e2e2e8", "above"),
    dict(type="line", xref="paper", yref="y", x0=0, x1=1, y0=2316, y1=2316, layer="below",
         line=dict(color="#9a9a9a", width=1, dash="dot")),
    dict(type="line", xref="paper", yref="y", x0=0, x1=1, y0=1504, y1=1504, layer="below",
         line=dict(color="#9a9a9a", width=1, dash="dot")),
    dict(type="line", xref="paper", yref="y", x0=0, x1=1, y0=1904.1, y1=1904.1, layer="below",
         line=dict(color="#26a69a", width=1, dash="dot")),
    paper_rect(3560, 47, 3692, 84, "#ffffff", "above"),
    paper_rect(3555, 671, 3645, 718, "#26a69a", "above"),
    # alert badge
    dict(type="circle", xref="paper", yref="paper", x0=px(3173), x1=px(3201), y0=py(1480), y1=py(1452),
         fillcolor="#ffffff", line=dict(color="#880e4f", width=2.5), layer="above"),
    dict(type="path", xref="paper", yref="paper", layer="above", fillcolor="#880e4f", line_width=0,
         path=poly([(3190, 1457), (3182, 1468), (3186, 1468), (3184, 1476), (3192, 1464), (3188, 1464)])),
    # TradingView mark
    dict(type="path", xref="paper", yref="paper", layer="above", fillcolor="#131722", line_width=0,
         path=poly([(18, 1921), (40, 1921), (40, 1943), (29, 1943), (29, 1930), (18, 1930)])),
    dict(type="circle", xref="paper", yref="paper", x0=px(42), x1=px(50), y0=py(1929), y1=py(1921),
         fillcolor="#131722", line_width=0, layer="above"),
    dict(type="path", xref="paper", yref="paper", layer="above", fillcolor="#131722", line_width=0,
         path=poly([(52, 1921), (63, 1921), (53, 1943), (42, 1943)])),
    # watermark mark
    dict(type="path", xref="paper", yref="paper", layer="above", fillcolor="rgba(0,0,0,0)",
         line=dict(color="#cfcfcf", width=2.5),
         path=poly([(3566, 1941), (3580, 1951), (3566, 1961), (3552, 1951)])),
]

annotations = [
    label("tutuu_zhou与TradingView.com共创, 8月 07, 2026 15:32 UTC+8", 14, 23, 17.6),
    label("Ethereum / TetherUS PERPETUAL CONTRACT · 4小时 · Binance  开=1,896.52  高=1,906.91  "
          "低=1,893.37  收=1,904.10  +7.57 (+0.40%)", 27, 64, 17.6),
    label("USDT", 3574, 65, 18),
    label("1,904.10", 3568, 684, 18, "#ffffff"),
    label("27:53", 3568, 705, 18, "#dff3f0"),
    label("ETHUSDT.P | 4h", 1785, 1395, 28.5, anchor="center"),
    label("2026/8/7 星期五 15:32", 1783, 1443, 30, anchor="center"),
    label("<b>TradingView</b>", 72, 1932, 32, family="Roboto"),
    label("@ 私家猫车", 3583, 1951, 24, "#cfcfcf"),
]

axis_font = dict(size=18, color="#131722", family="Noto Sans, Noto Sans CJK SC")
side_axis = dict(side="right", anchor="x", showgrid=False, zeroline=False, showline=False, ticks="outside",
                 ticklen=13, tickcolor="rgba(0,0,0,0)", tickfont=axis_font, fixedrange=True)

fig.update_layout(
    width=WIDTH, height=HEIGHT,
    margin=dict(l=BOX_L - BODY_MARGIN, r=PAGE_WIDTH - BOX_R, t=BOX_T - BODY_MARGIN, b=PAGE_HEIGHT - BOX_B, pad=0),
    paper_bgcolor="#ffffff", plot_bgcolor="#ebebeb", showlegend=False, bargap=0, boxgap=0.1,
    shapes=shapes, annotations=annotations,
    xaxis=dict(type="date", range=["2026-05-13 18:49", "2026-08-17 09:36"], anchor="y3", domain=[0, 1],
               tickmode="array", tickvals=date_ticks, ticktext=date_tick_text, tickfont=axis_font,
               ticks="outside", ticklen=1, tickcolor="rgba(0,0,0,0)", showgrid=False, zeroline=False,
               showline=False, rangeslider=dict(visible=False)),
    yaxis=dict(side_axis, type="log", domain=[py(PANE_MAIN_B), 1],
               range=[math.log10(1314), math.log10(2560)], tickmode="array", tickvals=price_ticks,
               ticktext=[f"{v:,.2f}" for v in price_ticks]),
    yaxis2=dict(side_axis, domain=[py(PANE_VOL_B), py(PANE_MAIN_B)], range=[-39, 147], tickmode="array",
                tickvals=[0], ticktext=["0.00"]),
    yaxis3=dict(side_axis, domain=[0, py(PANE_VOL_B)], range=[1.955, 2.567], tickmode="array",
                tickvals=lower_ticks, ticktext=lower_tick_text),
)

fig.write_html("out.html")
